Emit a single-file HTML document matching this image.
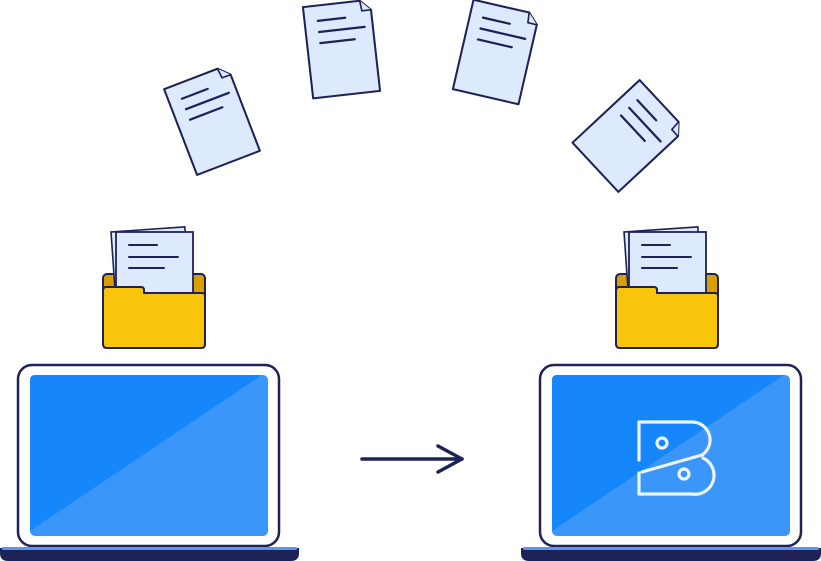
<!DOCTYPE html>
<html><head><meta charset="utf-8"><style>html,body{margin:0;padding:0;background:#fff}svg{display:block}</style></head>
<body>
<svg width="821" height="561" viewBox="0 0 821 561" xmlns="http://www.w3.org/2000/svg">
<defs>
<g id="doc">
<path d="M-33,-45 H23 L33,-35 V45 H-33 Z" fill="#dde9fd" stroke="#1e2256" stroke-width="2" stroke-linejoin="round"/>
<path d="M23,-45 L24,-35 H33" fill="#dde9fd" stroke="#1e2256" stroke-width="1.6" stroke-linejoin="round"/>
<g stroke="#1e2256" stroke-width="2.2" stroke-linecap="round">
<line x1="-20" y1="-30" x2="7" y2="-30"/>
<line x1="-20" y1="-19" x2="25" y2="-19"/>
<line x1="-20" y1="-8" x2="14" y2="-8"/>
</g>
</g>
<g id="folder">
<rect x="0" y="0" width="102" height="74" rx="4" fill="#d79f00" stroke="#1e2256" stroke-width="2"/>
<g transform="translate(8,-42) rotate(-4)"><rect x="0" y="0" width="74" height="60" fill="#dde9fd" stroke="#1e2256" stroke-width="1.6"/></g>
<rect x="13" y="-42" width="77" height="62" fill="#dde9fd" stroke="#1e2256" stroke-width="1.8"/>
<g stroke="#1e2256" stroke-width="2" stroke-linecap="round">
<line x1="26" y1="-29" x2="54" y2="-29"/><line x1="26" y1="-17" x2="75" y2="-17"/><line x1="26" y1="-6" x2="61" y2="-6"/>
</g>
<path d="M3,13 H38 Q41,13 41,16 V19 H99 Q102,19 102,22 V70 Q102,74 98,74 H4 Q0,74 0,70 V17 Q0,13 3,13 Z" fill="#f9c50b" stroke="#1e2256" stroke-width="2" stroke-linejoin="round"/>
</g>
<g id="laptop">
<rect x="0" y="0" width="261" height="181" rx="14" fill="#fff" stroke="#1e2256" stroke-width="2.5"/>
<rect x="12" y="10" width="238" height="161" rx="5" fill="#3a96f8"/>
<path d="M17,10 H244 L12,166 V15 Q12,10 17,10 Z" fill="#1687fb"/>
</g>
</defs>

<use href="#doc" transform="translate(212,120) rotate(-21) scale(1.02)"/>
<use href="#doc" transform="translate(341.5,49) rotate(-6.4) scale(1.02)"/>
<use href="#doc" transform="translate(496,52) rotate(13) scale(1.02)"/>
<use href="#doc" transform="translate(629,136) rotate(47) scale(1.02)"/>

<use href="#folder" transform="translate(103,274)"/>
<use href="#folder" transform="translate(616,274)"/>

<use href="#laptop" transform="translate(18,365)"/>
<use href="#laptop" transform="translate(540,365)"/>

<path d="M0,548 H299 V553 Q299,561 291,561 H8 Q0,561 0,553 Z" fill="#1e2256"/>
<rect x="2" y="547" width="295" height="3" rx="1.5" fill="#5c94ef"/>
<path d="M521,548 H821 V553 Q821,561 813,561 H529 Q521,561 521,553 Z" fill="#1e2256"/>
<rect x="523" y="547" width="296" height="3" rx="1.5" fill="#5c94ef"/>

<g fill="none" stroke="#eef4ff" stroke-width="3.2" stroke-linecap="round" stroke-linejoin="round">
<path d="M639,460 V422 H692 A18,18 0 0 1 702,455 L642,472"/>
<path d="M703,458 A19,19 0 0 1 692,494 H639 V473"/>
<circle cx="662" cy="443" r="5"/>
<circle cx="684" cy="474" r="5"/>
</g>

<g stroke="#1e2256" stroke-width="3.5" fill="none" stroke-linecap="round" stroke-linejoin="round">
<line x1="362" y1="459" x2="462" y2="459"/>
<path d="M438,446 L462,459 L438,472"/>
</g>
</svg>
</body></html>
